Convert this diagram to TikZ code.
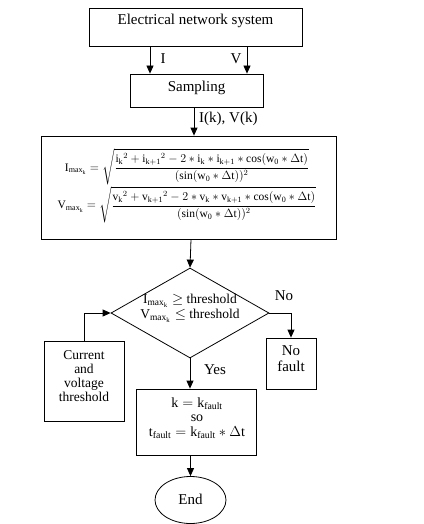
\documentclass[tikz,border=0pt]{standalone}
\usepackage{fontspec}
\setmainfont{Liberation Serif}
\usepackage{amsmath}
\usetikzlibrary{shapes.geometric,arrows.meta}
\begin{document}
\begin{tikzpicture}[x=1pt,y=-1pt,
  box/.style={draw, line width=0.8pt, inner sep=0pt},
  txt/.style={inner sep=0pt, align=center, font=\fontsize{15}{18}\selectfont},
  stxt/.style={inner sep=0pt, align=center, font=\fontsize{13.5}{14}\selectfont},
  ftxt/.style={inner sep=0pt, font=\fontsize{11.5}{13}\selectfont},
  arr/.style={draw, line width=0.8pt, -{Triangle[length=8pt,width=7pt]}}]
\useasboundingbox (0,0) rectangle (423,524);
% boxes
\node[box, minimum width=213pt, minimum height=38pt] (ens) at (195.5,27) {};
\node[txt] (enst) at (195.5,21) {Electrical network system};
\node[box, minimum width=133pt, minimum height=33pt] (samp) at (196.5,90.5) {};
\node[txt] (sampt) at (196.5,88) {Sampling};
\node[box, minimum width=295pt, minimum height=103pt] (form) at (188.5,187.5) {};
\node[ftxt] (fI) at (187,167)
 {$\mathrm{I_{max_k}} = \sqrt{\dfrac{\mathrm{i_k}^2 + \mathrm{i_{k+1}}^2 - 2\ast\mathrm{i_k}\ast\mathrm{i_{k+1}}\ast\cos(\mathrm{w_0}\ast\Delta\mathrm{t})}{(\sin(\mathrm{w_0}\ast\Delta\mathrm{t}))^2}}$};
\node[ftxt] (fV) at (187,205)
 {$\mathrm{V_{max_k}} = \sqrt{\dfrac{\mathrm{v_k}^2 + \mathrm{v_{k+1}}^2 - 2\ast\mathrm{v_k}\ast\mathrm{v_{k+1}}\ast\cos(\mathrm{w_0}\ast\Delta\mathrm{t})}{(\sin(\mathrm{w_0}\ast\Delta\mathrm{t}))^2}}$};
\node[box, shape=diamond, minimum width=158pt, minimum height=90pt] (dia) at (190,313) {};
\node[stxt] (diat) at (190,308) {$\mathrm{I_{max_k}} \geq$ threshold\\[1pt]$\mathrm{V_{max_k}} \leq$ threshold};
\node[box, minimum width=50pt, minimum height=51pt] (nof) at (291,363.5) {};
\node[txt, font=\fontsize{15}{16}\selectfont] (noft) at (291,359) {No\\fault};
\node[box, minimum width=80pt, minimum height=80pt] (cur) at (84,381) {};
\node[stxt] (curt) at (84,376) {Current\\and\\voltage\\threshold};
\node[box, minimum width=120pt, minimum height=66pt] (res) at (196,422) {};
\node[stxt, font=\fontsize{14}{14.5}\selectfont] (rest) at (197,418) {$\mathrm{k = k_{fault}}$\\so\\$\mathrm{t_{fault} = k_{fault}} \ast \Delta\mathrm{t}$};
\node[box, shape=ellipse, minimum width=71pt, minimum height=47pt] (end) at (190.5,500) {};
\node[txt] (endt) at (190.5,499) {End};
% coordinates
\coordinate (xi) at (150,0);
\coordinate (xv) at (247,0);
\coordinate (xs) at (194,0);
\coordinate (xf) at (191,0);
% connectors
\draw[arr] (ens.south -| xi) -- (samp.north -| xi);
\draw[arr] (ens.south -| xv) -- (samp.north -| xv);
\draw[arr] (samp.south -| xs) -- (form.north -| xs);
\draw[arr] (form.south -| xf) -- (dia.north);
\draw[arr] (dia.east) -| (nof.north);
\draw[arr] (cur.north) |- (dia.west);
\draw[arr] (dia.south) -- (dia.south |- res.north);
\draw[arr] (res.south -| end.north) -- (end.north);
% labels
\node[txt] (lI) at (163,59) {I};
\node[txt] (lV) at (236,59) {V};
\node[txt, anchor=west] (lIV) at (199,119) {I(k), V(k)};
\node[txt] (lno) at (284,296) {No};
\node[txt] (lyes) at (215,370) {Yes};
\end{tikzpicture}
\end{document}
